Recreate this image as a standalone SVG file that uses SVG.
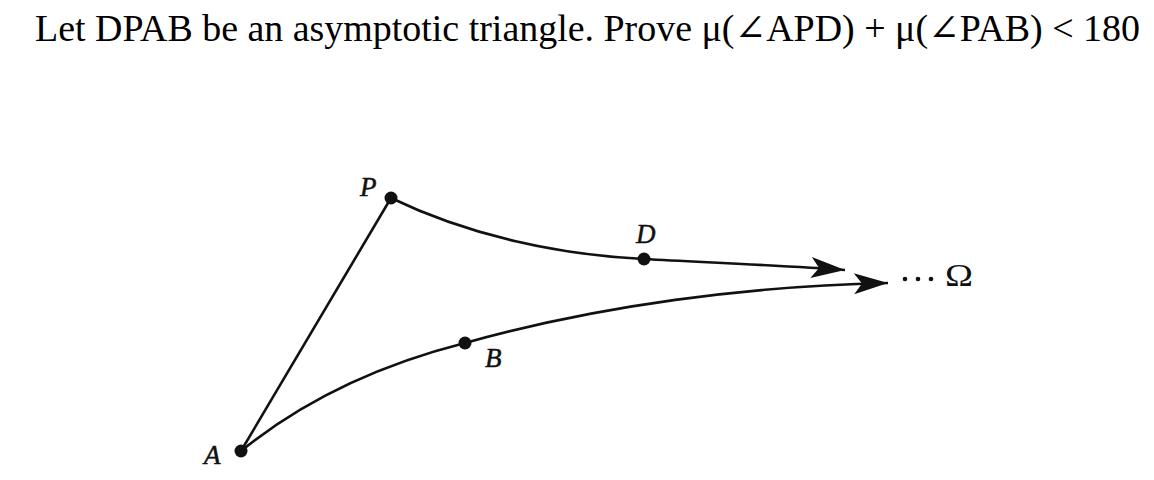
<svg xmlns="http://www.w3.org/2000/svg" width="1154" height="480" viewBox="0 0 1154 480">
  <style>
    .title { font-family: "Liberation Serif", "DejaVu Serif", serif; font-size: 37px; fill: #000; }
    .lbl { font-family: "Liberation Serif", "DejaVu Serif", serif; font-style: italic; font-size: 27px; fill: #111; stroke: #111; stroke-width: 0.5; }
    .edge { fill: none; stroke: #111; stroke-width: 2.6; }
    .dot { fill: #111; }
  </style>
  <defs>
    <marker id="arr" markerUnits="userSpaceOnUse" markerWidth="40" markerHeight="24" viewBox="-36 -12 40 24" refX="0" refY="0" orient="auto">
      <path d="M0,0 L-34,-10.5 L-26,0 L-34,10.5 Z" fill="#111"/>
    </marker>
  </defs>
  <text class="title" x="35" y="41" textLength="1105" lengthAdjust="spacingAndGlyphs">Let DPAB be an asymptotic triangle. Prove μ(∠APD) + μ(∠PAB) &lt; 180</text>
  <g id="connectors">
    <line class="edge" x1="241" y1="451" x2="391" y2="198"/>
    <path class="edge" d="M391,198 C470,236 560,255 644,259 C720,263 790,266 845,270" marker-end="url(#arr)"/>
    <path class="edge" d="M241,451 C310,395 390,362 465,343 C600,305 750,286 888,283" marker-end="url(#arr)"/>
  </g>
  <g id="node-P"><circle class="dot" cx="391" cy="198" r="6.5"/><text class="lbl" x="360" y="196">P</text></g>
  <g id="node-D"><circle class="dot" cx="644" cy="259" r="6.5"/><text class="lbl" x="636" y="243">D</text></g>
  <g id="node-B"><circle class="dot" cx="465" cy="343" r="6.5"/><text class="lbl" x="485" y="367">B</text></g>
  <g id="node-A"><circle class="dot" cx="241" cy="451" r="6.5"/><text class="lbl" x="204" y="464">A</text></g>
  <g id="node-Omega">
    <circle class="dot" cx="905" cy="279" r="2.3"/>
    <circle class="dot" cx="918" cy="279" r="2.3"/>
    <circle class="dot" cx="931" cy="279" r="2.3"/>
    <text x="945" y="286" textLength="28" lengthAdjust="spacingAndGlyphs" style="font-family:'Liberation Serif','DejaVu Serif',serif;font-size:32px;fill:#111">Ω</text>
  </g>
</svg>
